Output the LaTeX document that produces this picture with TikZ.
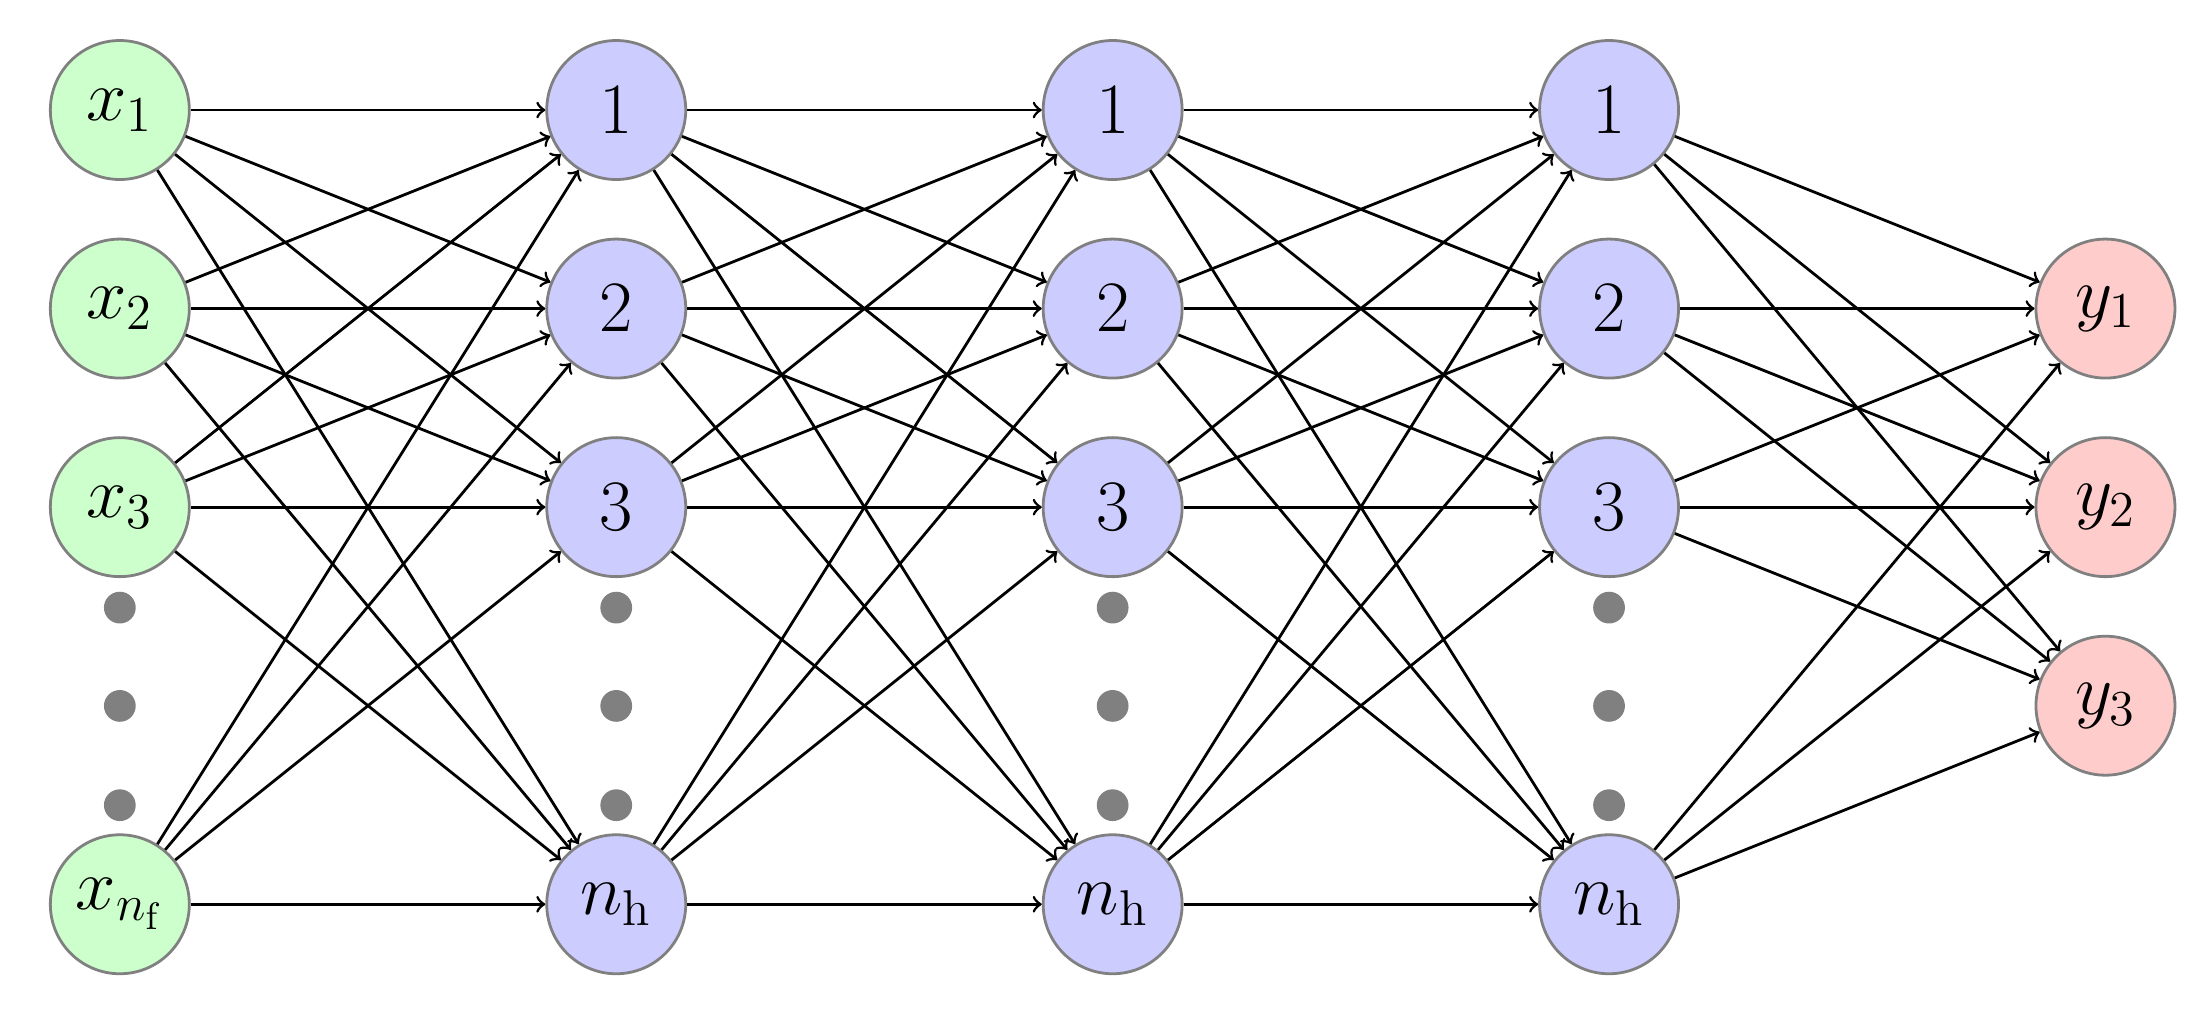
\documentclass[tikz,border=0pt]{standalone}
\usepackage{amsmath}
\begin{document}
\begin{tikzpicture}[
  neuron/.style={circle,draw=black!50,thick,minimum size=1.4cm,inner sep=0pt,font=\fontsize{22}{26}\selectfont},
  inneuron/.style={neuron,fill=green!20},
  hidneuron/.style={neuron,fill=blue!20},
  outneuron/.style={neuron,fill=red!20},
  dot/.style={circle,fill=black!50,minimum size=0.32cm,inner sep=0pt},
  edge/.style={->,thick}]
\useasboundingbox (0,0) rectangle (22.27,-10.27);
% input layer
\node[inneuron] (i1) at (1.207,-1.108) {$x_1$};
\node[inneuron] (i2) at (1.207,-3.108) {$x_2$};
\node[inneuron] (i3) at (1.207,-5.108) {$x_3$};
\node[inneuron] (i4) at (1.207,-9.108) {$x_{n_\mathrm{f}}$};
% hidden layers
\foreach \l/\x in {1/6.207,2/11.207,3/16.207}{
  \node[hidneuron] (h\l-1) at (\x,-1.108) {$1$};
  \node[hidneuron] (h\l-2) at (\x,-3.108) {$2$};
  \node[hidneuron] (h\l-3) at (\x,-5.108) {$3$};
  \node[hidneuron] (h\l-4) at (\x,-9.108) {$n_\mathrm{h}$};
}
% dots
\foreach \l/\x in {0/1.207,1/6.207,2/11.207,3/16.207}{
  \node[dot] (d\l-1) at (\x,-6.12) {};
  \node[dot] (d\l-2) at (\x,-7.11) {};
  \node[dot] (d\l-3) at (\x,-8.11) {};
}
% output layer
\node[outneuron] (o1) at (21.207,-3.108) {$y_1$};
\node[outneuron] (o2) at (21.207,-5.108) {$y_2$};
\node[outneuron] (o3) at (21.207,-7.108) {$y_3$};
% connections
\foreach \a in {1,...,4}
  \foreach \b in {1,...,4}
    \draw[edge] (i\a) -- (h1-\b);
\foreach \a in {1,...,4}
  \foreach \b in {1,...,4}{
    \draw[edge] (h1-\a) -- (h2-\b);
    \draw[edge] (h2-\a) -- (h3-\b);
  }
\foreach \a in {1,...,4}
  \foreach \b in {1,...,3}
    \draw[edge] (h3-\a) -- (o\b);
\end{tikzpicture}
\end{document}
